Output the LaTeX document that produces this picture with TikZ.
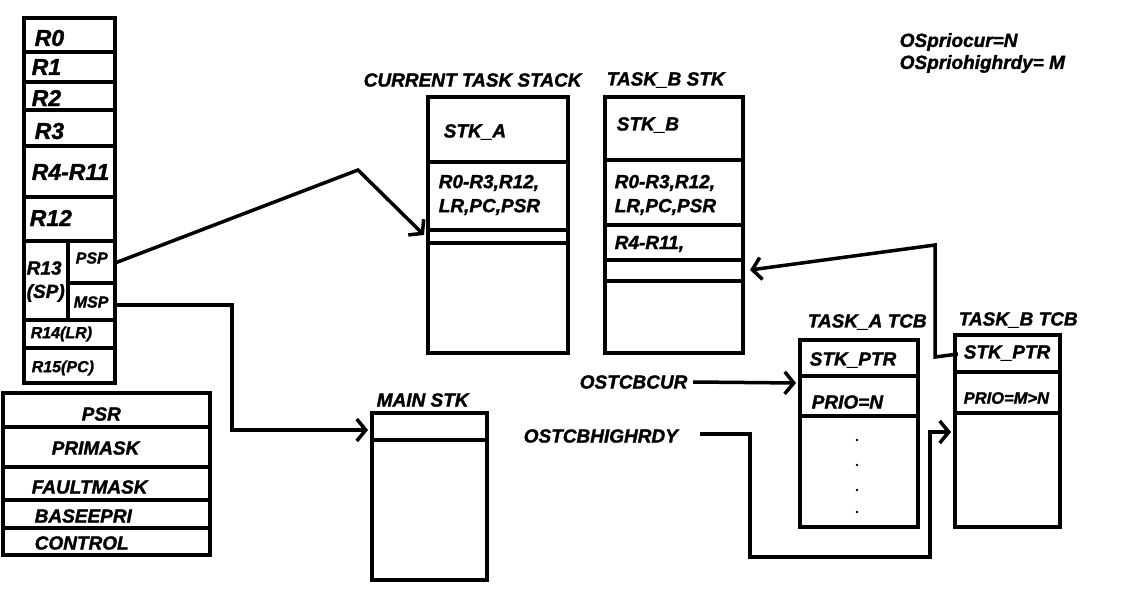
\documentclass[tikz,border=0pt]{standalone}
\usepackage{fontspec}
\setmainfont{Liberation Sans}[FakeBold=1.5]
\usetikzlibrary{arrows.meta}
\begin{document}
\begin{tikzpicture}[x=1pt,y=-1pt,line width=3.5pt,
  t/.style={anchor=west,inner sep=0,font=\fontsize{19}{19}\selectfont\bfseries\itshape},
  tb/.style={t,font=\fontsize{23}{23}\selectfont\bfseries\itshape},
  ts/.style={t,font=\fontsize{16}{16}\selectfont\bfseries\itshape},
  arr/.style={-{Straight Barb[length=9pt,width=22pt,line width=3.5pt]}}]
\useasboundingbox[fill=white] (0,0) rectangle (1137,593);
% register file
\draw (24,18) rectangle (115,383);
\foreach \y in {52,82,110,146,197,241,320,348} \draw (24,\y) -- (115,\y);
\draw (68,241) -- (68,320); \draw (68,283) -- (115,283);
\node[tb] at (33,38) {R0};
\node[tb] at (30,67) {R1};
\node[tb] at (30,98) {R2};
\node[tb] at (33,131) {R3};
\node[tb] at (30,172) {R4-R11};
\node[tb] at (28,218) {R12};
\node[t] at (25,268) {R13};
\node[t] at (25,293) {(SP)};
\node[ts] at (74,258) {PSP};
\node[ts] at (72,302) {MSP};
\node[ts] at (29,334) {R14(LR)};
\node[ts] at (30,368) {R15(PC)};
\coordinate (psp) at (115,263); \coordinate (msp) at (115,305);
% special regs
\draw (3,393) rectangle (210,555);
\foreach \y in {427,467,500,528} \draw (3,\y) -- (210,\y);
\node[t] at (80,414) {PSR};
\node[t] at (50,448) {PRIMASK};
\node[t] at (30,487) {FAULTMASK};
\node[t] at (33,516) {BASEEPRI};
\node[t] at (33,543) {CONTROL};
% current task stack
\node[t] (lcur) at (362,80) {CURRENT TASK STACK};
\draw (428,97) rectangle (568,353);
\foreach \y in {162,230,243} \draw (428,\y) -- (568,\y);
\node[t] at (442,132) {STK\_A};
\node[t] at (437,183) {R0-R3,R12,};
\node[t] at (437,207) {LR,PC,PSR};
\coordinate (curin) at (424,235);
% task b stack
\node[t] at (605,80) {TASK\_B STK};
\draw (605,97) rectangle (743,353);
\foreach \y in {160,225,260,281} \draw (605,\y) -- (743,\y);
\node[t] at (615,125) {STK\_B};
\node[t] at (613,183) {R0-R3,R12,};
\node[t] at (613,207) {LR,PC,PSR};
\node[t] at (613,244) {R4-R11,};
\coordinate (bin) at (750,270);
% main stk
\node[t] at (375,400) {MAIN STK};
\draw (372,413) rectangle (487,580); \draw (372,440) -- (487,440);
\coordinate (mainin) at (368,430);
% TCBs
\node[t] at (806,322) {TASK\_A TCB};
\draw (800,340) rectangle (918,527);
\draw (800,376) -- (918,376) (800,416) -- (918,416);
\node[t] at (808,360) {STK\_PTR};
\node[t] at (810,402) {PRIO=N};
\foreach \y in {440,465,490,512} \fill (857,\y) circle (1.3);
\coordinate (ain) at (796,383);
\node[t] at (957,320) {TASK\_B TCB};
\draw (955,335) rectangle (1060,527);
\draw (955,372) -- (1060,372) (955,413) -- (1060,413);
\node[t] at (962,353) {STK\_PTR};
\node[t,font=\fontsize{16.5}{16.5}\selectfont\bfseries\itshape] at (962,398) {PRIO=M>N};
\coordinate (bptr) at (958,354);
\coordinate (bbox) at (951,432);
% pointers
\node[t] (cur) at (578,382) {OSTCBCUR};
\node[t] (hi) at (522,436) {OSTCBHIGHRDY};
\node[t] at (898,42) {OSpriocur=N};
\node[t] at (898,64) {OSpriohighrdy= M};
% connectors
\draw[arr] (psp) -- (358,170) -- (curin);
\draw[arr] (msp) -- (232,305) -- (232,430) -- (mainin);
\draw[arr] (bptr) -- (935,357) -- (935,245) -- (bin);
\draw[arr] (cur.east)++(4,0) -- (ain);
\draw[arr] (700,434) -- (750,434) -- (750,557) -- (930,557) -- (930,432) -- (bbox);
\end{tikzpicture}
\end{document}
